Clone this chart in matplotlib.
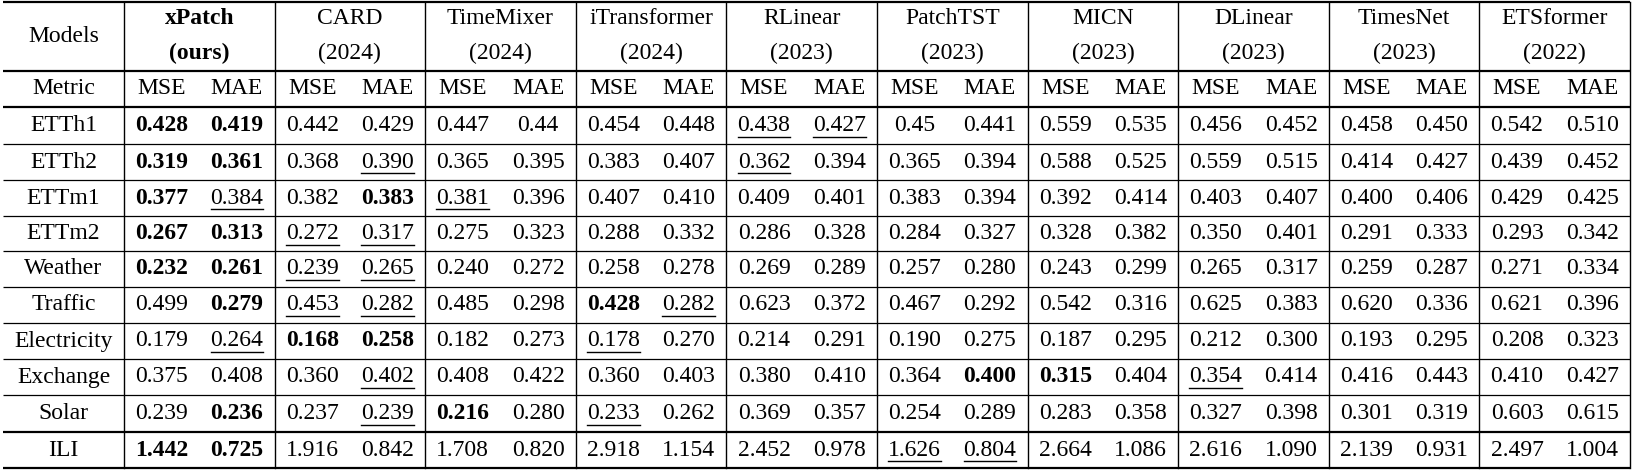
import matplotlib
matplotlib.use("Agg")
import matplotlib.pyplot as plt

plt.rcParams['font.family'] = ['Liberation Serif', 'DejaVu Serif']

models = ["xPatch", "CARD", "TimeMixer", "iTransformer", "RLinear", "PatchTST", "MICN", "DLinear", "TimesNet", "ETSformer"]
years = ["(ours)", "(2024)", "(2024)", "(2024)", "(2023)", "(2023)", "(2023)", "(2023)", "(2023)", "(2022)"]
datasets = ["ETTh1", "ETTh2", "ETTm1", "ETTm2", "Weather", "Traffic", "Electricity", "Exchange", "Solar", "ILI"]

# per dataset row: (mse, mae) per model, as printed strings
values = {
    "ETTh1":       ["0.428","0.419","0.442","0.429","0.447","0.44","0.454","0.448","0.438","0.427","0.45","0.441","0.559","0.535","0.456","0.452","0.458","0.450","0.542","0.510"],
    "ETTh2":       ["0.319","0.361","0.368","0.390","0.365","0.395","0.383","0.407","0.362","0.394","0.365","0.394","0.588","0.525","0.559","0.515","0.414","0.427","0.439","0.452"],
    "ETTm1":       ["0.377","0.384","0.382","0.383","0.381","0.396","0.407","0.410","0.409","0.401","0.383","0.394","0.392","0.414","0.403","0.407","0.400","0.406","0.429","0.425"],
    "ETTm2":       ["0.267","0.313","0.272","0.317","0.275","0.323","0.288","0.332","0.286","0.328","0.284","0.327","0.328","0.382","0.350","0.401","0.291","0.333","0.293","0.342"],
    "Weather":     ["0.232","0.261","0.239","0.265","0.240","0.272","0.258","0.278","0.269","0.289","0.257","0.280","0.243","0.299","0.265","0.317","0.259","0.287","0.271","0.334"],
    "Traffic":     ["0.499","0.279","0.453","0.282","0.485","0.298","0.428","0.282","0.623","0.372","0.467","0.292","0.542","0.316","0.625","0.383","0.620","0.336","0.621","0.396"],
    "Electricity": ["0.179","0.264","0.168","0.258","0.182","0.273","0.178","0.270","0.214","0.291","0.190","0.275","0.187","0.295","0.212","0.300","0.193","0.295","0.208","0.323"],
    "Exchange":    ["0.375","0.408","0.360","0.402","0.408","0.422","0.360","0.403","0.380","0.410","0.364","0.400","0.315","0.404","0.354","0.414","0.416","0.443","0.410","0.427"],
    "Solar":       ["0.239","0.236","0.237","0.239","0.216","0.280","0.233","0.262","0.369","0.357","0.254","0.289","0.283","0.358","0.327","0.398","0.301","0.319","0.603","0.615"],
    "ILI":         ["1.442","0.725","1.916","0.842","1.708","0.820","2.918","1.154","2.452","0.978","1.626","0.804","2.664","1.086","2.616","1.090","2.139","0.931","2.497","1.004"],
}
bold = {("ETTh1",0),("ETTh1",1),("ETTh2",0),("ETTh2",1),("ETTm1",0),("ETTm1",3),
        ("ETTm2",0),("ETTm2",1),("Weather",0),("Weather",1),("Traffic",1),("Traffic",6),
        ("Electricity",2),("Electricity",3),("Exchange",11),("Exchange",12),
        ("Solar",1),("Solar",4),("ILI",0),("ILI",1)}
underline = {("ETTh1",8),("ETTh1",9),("ETTh2",3),("ETTh2",8),("ETTm1",1),("ETTm1",4),
             ("ETTm2",2),("ETTm2",3),("Weather",2),("Weather",3),("Traffic",2),("Traffic",3),
             ("Traffic",7),("Electricity",1),("Electricity",6),("Exchange",3),("Exchange",14),
             ("Solar",3),("Solar",6),("ILI",10),("ILI",11)}

W, H = 1634, 471
fig = plt.figure(figsize=(W/100, H/100), dpi=100)
ax = fig.add_axes([0, 0, 1, 1])
ax.set_xlim(0, W); ax.set_ylim(H, 0); ax.axis('off')

x0, x1, xr = 3, 124, 1630
cw = (xr - x1) / len(models)
hlines = [2, 71, 107, 144, 180, 216, 251, 287, 323, 359, 395, 432, 468]
thick = {2, 71, 107, 432, 468}
fs = 17

for y in hlines:
    ax.plot([x0, xr], [y, y], color='black', lw=1.6 if y in thick else 0.9, solid_capstyle='butt')
for i in range(len(models) + 1):
    x = x1 + i * cw
    ax.plot([x, x], [hlines[0], hlines[-1]], color='black', lw=1.0)

ax.text((x0 + x1)/2, (hlines[0]+hlines[1])/2, "Models", ha='center', va='center', fontsize=fs)
for i, (m, yr) in enumerate(zip(models, years)):
    cx = x1 + (i + 0.5) * cw
    w = 'bold' if i == 0 else 'normal'
    ax.text(cx, 19, m, ha='center', va='center', fontsize=fs, fontweight=w)
    ax.text(cx, 53, yr, ha='center', va='center', fontsize=fs, fontweight=w)
ym = (hlines[1]+hlines[2])/2
ax.text((x0 + x1)/2, ym, "Metric", ha='center', va='center', fontsize=fs)
for i in range(len(models)):
    for k, lab in enumerate(["MSE", "MAE"]):
        ax.text(x1 + (i + 0.25 + 0.5*k) * cw, ym, lab, ha='center', va='center', fontsize=fs)

texts_ul = []
for r, d in enumerate(datasets):
    yc = (hlines[r+2] + hlines[r+3]) / 2
    ax.text((x0 + x1)/2, yc, d, ha='center', va='center', fontsize=fs)
    for j, v in enumerate(values[d]):
        cx = x1 + (j // 2 + 0.25 + 0.5*(j % 2)) * cw
        t = ax.text(cx, yc, v, ha='center', va='center', fontsize=fs,
                    fontweight='bold' if (d, j) in bold else 'normal')
        if (d, j) in underline:
            texts_ul.append((t, yc))

fig.canvas.draw()
r = fig.canvas.get_renderer()
inv = ax.transData.inverted()
for t, yc in texts_ul:
    bb = t.get_window_extent(r)
    (xa, _), (xb, _) = inv.transform([[bb.x0, bb.y0], [bb.x1, bb.y0]])
    ax.plot([xa, xb], [yc + 11, yc + 11], color='black', lw=1.0)

fig.savefig("out.png", dpi=100)
